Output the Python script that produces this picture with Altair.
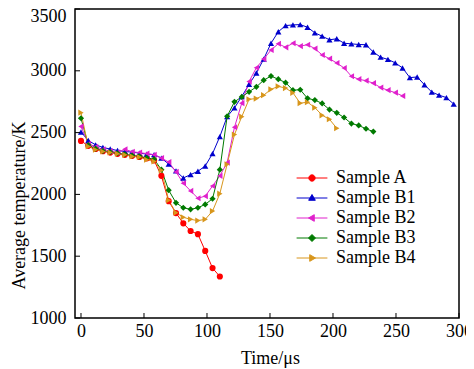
import altair as alt
import pandas as pd

# ---------------- data ----------------
TIME = [0.0, 5.8, 11.6, 17.4, 23.2, 29.0, 34.8, 40.6, 46.4, 52.2,
        58.0, 63.8, 69.6, 75.4, 81.2, 87.0, 92.8, 98.6, 104.4, 110.2,
        116.0, 121.8, 127.6, 133.4, 139.2, 145.0, 150.8, 156.6, 162.4, 168.2,
        174.0, 179.8, 185.6, 191.4, 197.2, 203.0, 208.8, 214.6, 220.4, 226.2,
        232.0, 237.8, 243.6, 249.4, 255.2, 261.0, 266.8, 272.6, 278.4, 284.2,
        290.0, 295.8]

SERIES = ["Sample A", "Sample B1", "Sample B2", "Sample B3", "Sample B4"]

SAMPLE_A = [2433, 2393, 2368, 2350, 2338, 2328, 2320, 2312, 2303, 2292,
            2275, 2150, 1945, 1849, 1766, 1704, 1678, 1543, 1404, 1336]

SAMPLE_B1 = [2505, 2436, 2401, 2380, 2367, 2355, 2347, 2342, 2334, 2326,
             2322, 2294, 2245, 2190, 2133, 2160, 2187, 2230, 2330, 2468,
             2629, 2700, 2792, 2890, 2982, 3095, 3223, 3316, 3366, 3371,
             3374, 3352, 3307, 3280, 3251, 3259, 3223, 3218, 3213, 3211,
             3152, 3110, 3092, 3064, 3023, 2945, 2950, 2887, 2828, 2803,
             2783, 2731]

SAMPLE_B2 = [2550, 2410, 2385, 2365, 2350, 2340, 2365, 2345, 2338, 2330,
             2321, 2294, 2262, 2182, 2090, 2028, 1969, 1986, 2068, 2150,
             2257, 2543, 2738, 2913, 3025, 3095, 3168, 3219, 3190, 3223,
             3200, 3211, 3180, 3128, 3098, 3063, 3023, 2956, 2932, 2920,
             2900, 2864, 2843, 2823, 2797]

SAMPLE_B3 = [2616, 2400, 2370, 2352, 2343, 2333, 2325, 2315, 2308, 2295,
             2285, 2200, 2034, 1932, 1892, 1879, 1892, 1919, 1965, 2200,
             2632, 2749, 2789, 2830, 2870, 2924, 2957, 2932, 2904, 2843,
             2847, 2777, 2763, 2736, 2686, 2660, 2622, 2573, 2558, 2531,
             2508]

SAMPLE_B4 = [2661, 2388, 2361, 2347, 2339, 2329, 2320, 2307, 2302, 2280,
             2267, 2195, 1953, 1852, 1815, 1798, 1788, 1798, 1865, 2006,
             2244, 2484, 2629, 2770, 2775, 2803, 2850, 2874, 2860, 2822,
             2738, 2746, 2702, 2640, 2608, 2535]

X_TICKS = [0, 50, 100, 150, 200, 250, 300]
Y_TICKS = [1000, 1500, 2000, 2500, 3000, 3500]

# ---------------- styles ----------------
COLORS = ["#ff0000", "#0000cc", "#e020cc", "#007a00", "#d8961c"]
SHAPES = ["circle", "triangle-up", "triangle-left", "diamond", "triangle-right"]
LEGEND_SHAPES = [
    "M-4.4,0H4.4M-0.9,0A0.9,0.9,0,1,0,0.9,0A0.9,0.9,0,1,0,-0.9,0Z",
    "M-4.4,0H4.4M0,-1L0.95,0.65L-0.95,0.65Z",
    "M-4.4,0H4.4M-1,0L0.65,-0.95L0.65,0.95Z",
    "M-4.4,0H4.4M0,-1L1,0L0,1L-1,0Z",
    "M-4.4,0H4.4M1,0L-0.65,-0.95L-0.65,0.95Z",
]
FONT = "Liberation Serif"
W, H = 384, 309

rows = []
for name, vals in zip(SERIES, [SAMPLE_A, SAMPLE_B1, SAMPLE_B2, SAMPLE_B3, SAMPLE_B4]):
    for t, v in zip(TIME, vals):
        rows.append({"series": name, "time": t, "temp": v})
df = pd.DataFrame(rows)

x_enc = alt.X("time:Q", scale=alt.Scale(domain=[-4.75, 300], nice=False, zero=False),
              axis=alt.Axis(values=X_TICKS, title="Time/μs", grid=False, domain=False,
                            tickSize=0, labelPadding=4, labelOverlap=False,
                            labelFlush=False, labelBound=False, format="d",
                            titleY=31, titleX=W / 2 + 3))
y_enc = alt.Y("temp:Q", scale=alt.Scale(domain=[1000, 3500], nice=False, zero=False),
              axis=alt.Axis(values=Y_TICKS, title="Average temperature/K", grid=False,
                            domain=False, tickSize=0, labelPadding=9, format="d",
                            labelOverlap=False, labelFlush=False,
                            labelOffset={"condition": {"test": "datum.value == 3500", "value": 7},
                                         "value": 0},
                            titleX=-47, titleY=196))

color_plot = alt.Color("series:N", scale=alt.Scale(domain=SERIES, range=COLORS), legend=None)

base = alt.Chart(df)
lines = base.mark_line(strokeWidth=1).encode(x=x_enc, y=y_enc, color=color_plot,
                                              detail="series:N")
points = base.mark_point(filled=True, size=38, opacity=1).encode(
    x=x_enc, y=y_enc, color=color_plot,
    shape=alt.Shape("series:N", scale=alt.Scale(domain=SERIES, range=SHAPES), legend=None))

leg = alt.Legend(title=None, orient="none", legendX=228, legendY=160,
                 labelFont=FONT, labelFontSize=18, labelColor="black",
                 symbolSize=49, symbolStrokeWidth=1, symbolOpacity=1,
                 labelOffset=15, rowPadding=2, padding=0)
legend_layer = base.mark_point(filled=True, opacity=0, strokeWidth=1).encode(
    x=x_enc, y=y_enc,
    color=alt.Color("series:N", scale=alt.Scale(domain=SERIES, range=COLORS), legend=leg),
    stroke=alt.Stroke("series:N", scale=alt.Scale(domain=SERIES, range=COLORS), legend=leg),
    shape=alt.Shape("series:N", scale=alt.Scale(domain=SERIES, range=LEGEND_SHAPES), legend=leg),
)

xt = alt.Chart(pd.DataFrame({"t": X_TICKS})).mark_rule(color="black", strokeWidth=1).encode(
    x=alt.X("t:Q"), y=alt.value(H), y2=alt.value(H - 5))
yt = alt.Chart(pd.DataFrame({"v": Y_TICKS})).mark_rule(color="black", strokeWidth=1).encode(
    y=alt.Y("v:Q"), x=alt.value(0), x2=alt.value(5))

chart = alt.layer(
    alt.layer(lines, points),
    legend_layer,
    xt, yt,
).resolve_scale(color="independent", shape="independent", stroke="independent").properties(
    width=W, height=H,
    autosize=alt.AutoSizeParams(type="none"),
    padding={"left": 67, "top": 1, "right": 7, "bottom": 50},
    background="white",
).configure_view(stroke="black", strokeWidth=1.5).configure_axis(
    labelFont=FONT, labelFontSize=18, labelColor="black",
    titleFont=FONT, titleFontSize=18, titleColor="black", titleFontWeight="normal",
)

chart.save("out.html", embed_options={"renderer": "svg", "actions": False})
